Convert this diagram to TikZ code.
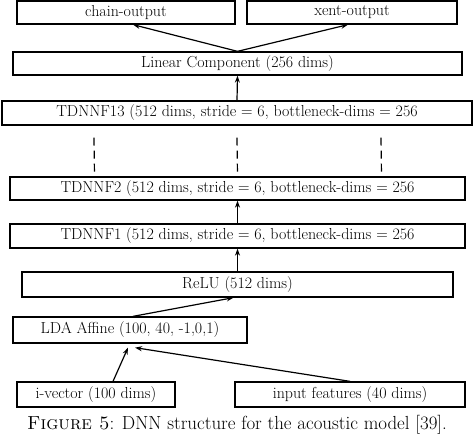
\documentclass[tikz,border=0pt]{standalone}
\usepackage{fontspec}
\usepackage{tikz}
\usetikzlibrary{arrows.meta, positioning, calc}

\begin{document}
\begin{tikzpicture}[
    x=1bp, y=-1bp,
    every node/.style={font=\fontsize{16}{18}\selectfont},
    layer/.style={rectangle, draw=black, line width=1.3bp, inner sep=0pt, minimum height=23bp},
    arrow/.style={-{Stealth[length=7bp, width=5bp]}, line width=1.2bp},
    skip/.style={dashed, dash pattern=on 8bp off 5bp, line width=1.2bp},
]
\useasboundingbox (0,0) rectangle (474,438);

% Outputs
\node[layer, minimum width=218bp] (chain) at (126, 12.5) {chain-output};
\node[layer, minimum width=210bp] (xent) at (352, 12.5) {xent-output};

% Stack of layers
\node[layer, minimum width=449bp] (lin) at (237.5, 63.5) {Linear Component (256 dims)};
\node[layer, minimum width=470bp, minimum height=24bp] (tdnnf13) at (237, 113) {TDNNF13 (512 dims, stride = 6, bottleneck-dims = 256};
\node[layer, minimum width=455bp] (tdnnf2) at (237.5, 188.5) {TDNNF2 (512 dims, stride = 6, bottleneck-dims = 256};
\node[layer, minimum width=455bp, minimum height=24bp] (tdnnf1) at (237.5, 236) {TDNNF1 (512 dims, stride = 6, bottleneck-dims = 256};
\node[layer, minimum width=431bp, minimum height=25bp] (relu) at (237.5, 284.5) {ReLU (512 dims)};
\node[layer, minimum width=234bp, minimum height=26bp] (lda) at (130, 330) {LDA Affine (100, 40, -1,0,1)};

% Inputs
\node[layer, minimum width=158bp, minimum height=25bp] (ivec) at (96, 394.5) {i-vector (100 dims)};
\node[layer, minimum width=230bp, minimum height=25bp] (feat) at (350, 394.5) {input features (40 dims)};

% Caption
\node[font=\fontsize{19}{21}\selectfont] (caption) at (237, 425) {\textsc{Figure 5}: DNN structure for the acoustic model [39].};

% Data flow
\coordinate (ldain) at ([yshift=-4bp]lda.south);
\draw[arrow] ([xshift=17bp]ivec.north) -- ([xshift=-2bp]ldain);
\draw[arrow] (feat.north) -- ([xshift=5bp]ldain);
\draw[arrow] ([xshift=3bp]lda.north) -- ([xshift=-4bp]relu.south);
\draw[arrow] (relu.north) -- (tdnnf1.south);
\draw[arrow] (tdnnf1.north) -- (tdnnf2.south);
\foreach \dx in {-143,0,144}
    \draw[skip] ([xshift=\dx bp, yshift=-12bp]tdnnf13.south) -- ([xshift=\dx bp]tdnnf2.north);
\draw[arrow] (tdnnf13.north) -- (lin.south);
\draw[arrow] (lin.north) -- ([xshift=7bp]chain.south);
\draw[arrow] (lin.north) -- ([xshift=-4bp]xent.south);

\end{tikzpicture}
\end{document}
